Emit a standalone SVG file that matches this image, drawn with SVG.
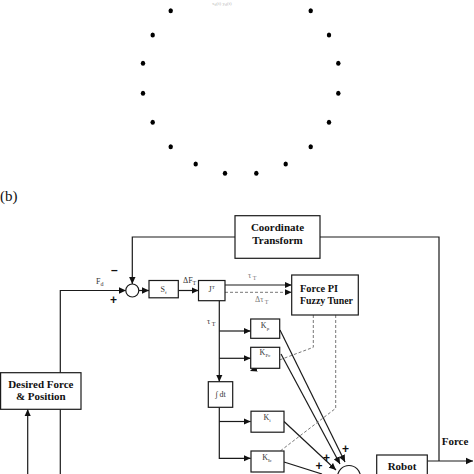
<svg xmlns="http://www.w3.org/2000/svg" width="474" height="474" viewBox="0 0 474 474">
  <style>
    .ln { stroke: #1a1a1a; stroke-width: 1.2; fill: none; }
    .dl { stroke: #777; stroke-width: 1; fill: none; stroke-dasharray: 3 2; }
    .box { stroke: #1a1a1a; stroke-width: 1.2; fill: #fff; }
    .bt { font-family: "Liberation Serif", serif; font-weight: bold; font-size: 11px; fill: #111; }
    .st { font-family: "Liberation Serif", serif; font-size: 8px; fill: #333; }
    .sign { font-family: "Liberation Sans", sans-serif; font-weight: bold; font-size: 12px; fill: #111; }
    .dot { fill: #000; }
  </style>
  <defs>
    <marker id="arr" markerWidth="8" markerHeight="8" refX="7" refY="4" orient="auto" markerUnits="userSpaceOnUse">
      <path d="M0,0.8 L7,4 L0,7.2 Z" fill="#111"/>
    </marker>
  </defs>

  <!-- (a) circular trajectory points -->
  <g id="trajectory">
    <text x="212" y="5" font-family="Liberation Serif, serif" font-size="5" fill="#bbb">x<tspan dy="1" font-size="4">d</tspan><tspan dy="-1">(t)</tspan>      y<tspan dy="1" font-size="4">d</tspan><tspan dy="-1">(t)</tspan></text>
    <ellipse class="dot" cx="170.7" cy="10.7" rx="2.2" ry="2.5"/>
    <ellipse class="dot" cx="310.7" cy="10.7" rx="2.2" ry="2.5"/>
    <ellipse class="dot" cx="152.7" cy="35" rx="2.2" ry="2.5"/>
    <ellipse class="dot" cx="329" cy="35" rx="2.2" ry="2.5"/>
    <ellipse class="dot" cx="143" cy="63.3" rx="2.2" ry="2.5"/>
    <ellipse class="dot" cx="338.3" cy="63.3" rx="2.2" ry="2.5"/>
    <ellipse class="dot" cx="143" cy="93.3" rx="2.2" ry="2.5"/>
    <ellipse class="dot" cx="338.3" cy="93.3" rx="2.2" ry="2.5"/>
    <ellipse class="dot" cx="152.7" cy="122.3" rx="2.2" ry="2.5"/>
    <ellipse class="dot" cx="329" cy="122.3" rx="2.2" ry="2.5"/>
    <ellipse class="dot" cx="170.7" cy="146.7" rx="2.2" ry="2.5"/>
    <ellipse class="dot" cx="310.7" cy="146.7" rx="2.2" ry="2.5"/>
    <ellipse class="dot" cx="195.7" cy="164" rx="2.2" ry="2.5"/>
    <ellipse class="dot" cx="285.7" cy="164" rx="2.2" ry="2.5"/>
    <ellipse class="dot" cx="225" cy="173.3" rx="2.2" ry="2.5"/>
    <ellipse class="dot" cx="256.3" cy="173.3" rx="2.2" ry="2.5"/>
  </g>

  <text x="0" y="201" font-family="Liberation Serif, serif" font-size="15" fill="#111">(b)</text>

  <!-- connectors -->
  <g id="connectors">
    <!-- coordinate transform feedback -->
    <polyline class="ln" points="235,237 132.3,237 132.3,284" marker-end="url(#arr)"/>
    <polyline class="ln" points="320,237 439,237 439,461"/>
    <!-- desired force to summing junction -->
    <polyline class="ln" points="60.3,372.7 60.3,290.5 126,290.5" marker-end="url(#arr)"/>
    <line class="ln" x1="60.3" y1="409.3" x2="60.3" y2="474"/>
    <line class="ln" x1="27.7" y1="474" x2="27.7" y2="409.3" marker-end="url(#arr)"/>
    <!-- forward path -->
    <line class="ln" x1="138.7" y1="290.5" x2="149" y2="290.5" marker-end="url(#arr)"/>
    <line class="ln" x1="178.3" y1="290.5" x2="198.5" y2="290.5" marker-end="url(#arr)"/>
    <line class="ln" x1="225" y1="285" x2="291.7" y2="285" marker-end="url(#arr)"/>
    <line class="dl" x1="225" y1="292.3" x2="291.7" y2="292.3" marker-end="url(#arr)"/>
    <!-- tau_T distribution -->
    <line class="ln" x1="219.3" y1="300.7" x2="219.3" y2="381.7" marker-end="url(#arr)"/>
    <line class="ln" x1="219.3" y1="331" x2="250.7" y2="331" marker-end="url(#arr)"/>
    <line class="ln" x1="219.3" y1="358.3" x2="250.7" y2="358.3" marker-end="url(#arr)"/>
    <polyline class="ln" points="219.3,407.3 219.3,458.3 250.7,458.3" marker-end="url(#arr)"/>
    <line class="ln" x1="219.3" y1="421.5" x2="250.7" y2="421.5" marker-end="url(#arr)"/>
    <!-- gains to summing junction -->
    <line class="ln" x1="280" y1="330" x2="345" y2="462" marker-end="url(#arr)"/>
    <line class="ln" x1="281" y1="354" x2="340" y2="464" marker-end="url(#arr)"/>
    <line class="ln" x1="284" y1="421.5" x2="336" y2="470" marker-end="url(#arr)"/>
    <line class="ln" x1="284" y1="462" x2="322" y2="474"/>
    <!-- fuzzy tuner gain updates -->
    <polyline class="dl" points="313.3,315 313.3,347.3 250,371" marker-end="url(#arr)"/>
    <polyline class="dl" points="335.7,315 335.7,408.3 253,472" marker-end="url(#arr)"/>
    <!-- junction to robot, robot output -->
    <line class="ln" x1="360" y1="476" x2="376.7" y2="476"/>
    <line class="ln" x1="427.3" y1="461" x2="473" y2="461" marker-end="url(#arr)"/>
  </g>

  <!-- summing junctions -->
  <g id="sum1">
    <circle class="box" cx="132.3" cy="290.5" r="6.5"/>
  </g>
  <g id="sum2">
    <circle class="box" cx="349" cy="477" r="11.5"/>
  </g>

  <!-- signal labels -->
  <text class="sign" x="111" y="274">–</text>
  <text class="sign" x="110" y="304">+</text>
  <text class="sign" x="342" y="453">+</text>
  <text class="sign" x="323" y="462">+</text>
  <text class="sign" x="315.5" y="470">+</text>
  <text class="st" x="96" y="284">F<tspan dy="2" font-size="6">d</tspan></text>
  <text class="st" x="183" y="283">ΔF<tspan dy="2" font-size="6">T</tspan></text>
  <text class="st" x="248" y="278" style="fill:#777">τ<tspan dy="2" font-size="6"> T</tspan></text>
  <text class="st" x="255" y="302" style="fill:#777">Δτ<tspan dy="2" font-size="6"> T</tspan></text>
  <text class="st" x="207" y="324">τ<tspan dy="2" font-size="6"> T</tspan></text>
  <text class="bt" x="455" y="445" font-size="9" text-anchor="middle">Force</text>

  <!-- blocks -->
  <g id="coordinate-transform">
    <rect class="box" x="235" y="215.7" width="85" height="42.6"/>
    <text class="bt" x="277.5" y="231" text-anchor="middle">Coordinate</text>
    <text class="bt" x="277.5" y="244" text-anchor="middle">Transform</text>
  </g>
  <g id="sf">
    <rect class="box" x="149" y="280.5" width="29.3" height="17.3"/>
    <text class="st" x="163.6" y="292" text-anchor="middle">S<tspan dy="1.5" font-size="5">f</tspan></text>
  </g>
  <g id="jt">
    <rect class="box" x="198.5" y="280.5" width="26.5" height="20.2"/>
    <text class="st" x="211.7" y="292" text-anchor="middle">J<tspan dy="-3" font-size="5">T</tspan></text>
  </g>
  <g id="fuzzy-tuner">
    <rect class="box" x="291.7" y="275" width="66.6" height="40"/>
    <text class="bt" x="300" y="292" font-size="10.5" textLength="38" lengthAdjust="spacingAndGlyphs">Force PI</text>
    <text class="bt" x="300" y="304" font-size="10.5" textLength="53" lengthAdjust="spacingAndGlyphs">Fuzzy Tuner</text>
  </g>
  <g id="kp">
    <rect class="box" x="250.7" y="319" width="29" height="19.3"/>
    <text class="st" x="265" y="328" text-anchor="middle" font-size="7">K<tspan dy="1.5" font-size="5">p</tspan></text>
  </g>
  <g id="kpc">
    <rect class="box" x="250.7" y="347.3" width="29" height="21"/>
    <text class="st" x="265" y="355" text-anchor="middle" font-size="7">K<tspan dy="1.5" font-size="5">Pc</tspan></text>
  </g>
  <g id="integrator">
    <rect class="box" x="208.3" y="381.7" width="24.4" height="25.6"/>
    <text class="st" x="220.5" y="397" text-anchor="middle">∫ dt</text>
  </g>
  <g id="ki">
    <rect class="box" x="251" y="411.2" width="33" height="21"/>
    <text class="st" x="267" y="420" text-anchor="middle" font-size="7">K<tspan dy="1.5" font-size="5">i</tspan></text>
  </g>
  <g id="kic">
    <rect class="box" x="251" y="451" width="33" height="21"/>
    <text class="st" x="267" y="460" text-anchor="middle" font-size="7">K<tspan dy="1.5" font-size="5">Ic</tspan></text>
  </g>
  <g id="desired">
    <rect class="box" x="0.6" y="372.7" width="80.4" height="36.6"/>
    <text class="bt" x="40.8" y="388" text-anchor="middle">Desired Force</text>
    <text class="bt" x="40.8" y="400" text-anchor="middle">&amp; Position</text>
  </g>
  <g id="robot">
    <rect class="box" x="376.7" y="455" width="50.6" height="25"/>
    <text class="bt" x="402" y="470" text-anchor="middle">Robot</text>
  </g>
</svg>
